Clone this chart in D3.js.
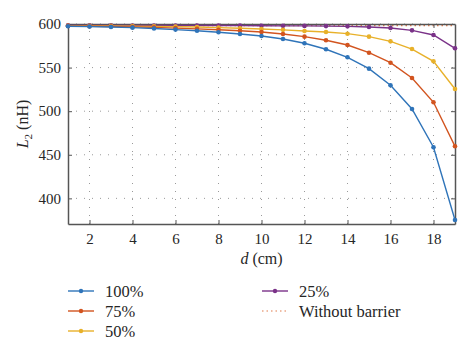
<!DOCTYPE html>
<html>
<head>
<meta charset="utf-8">
<script src="https://cdn.jsdelivr.net/npm/d3@7"></script>
<style>
  body { margin: 0; background: #fff; }
  text { font-family: 'Liberation Serif', 'DejaVu Serif', serif; fill: #262626; }
</style>
</head>
<body>
<div id="chart"></div>
<script>
const distances = [1, 2, 3, 4, 5, 6, 7, 8, 9, 10, 11, 12, 13, 14, 15, 16, 17, 18, 19];
const series100 = [597.5, 597.0, 596.5, 595.8, 594.8, 593.6, 592.2, 590.5, 588.6, 586.2, 582.8, 577.9, 571.0, 561.8, 548.8, 529.7, 502.5, 458.6, 375.2];
const series75 = [597.8, 597.5, 597.2, 596.7, 596.1, 595.3, 594.4, 593.4, 592.2, 590.8, 588.5, 585.5, 581.3, 575.9, 567.1, 555.6, 538.0, 510.2, 459.7];
const series50 = [598.0, 597.9, 597.8, 597.6, 597.3, 597.0, 596.5, 595.9, 595.1, 594.2, 593.3, 592.0, 590.8, 588.9, 585.5, 580.1, 571.3, 557.2, 525.5];
const series25 = [598.4, 598.4, 598.4, 598.3, 598.3, 598.3, 598.2, 598.2, 598.1, 598.0, 597.9, 597.8, 597.6, 597.3, 596.6, 595.4, 592.7, 587.4, 572.1];
const withoutBarrier = 598.2;
const xTicks = [2, 4, 6, 8, 10, 12, 14, 16, 18];
const yTicks = [400, 450, 500, 550, 600];
const seriesNames = ["100%", "75%", "50%", "25%"];
const colors = ["#2f74b9", "#d2541f", "#e8b12a", "#7a3288"];

const width = 474, height = 353;
const margin = { top: 24, left: 68, right: 19, bottom: 129 };

const svg = d3.select("#chart").append("svg")
    .attr("width", width)
    .attr("height", height);

const x = d3.scaleLinear().domain([1, 19]).range([margin.left, width - margin.right]);
const y = d3.scaleLinear().domain([370.6, 600]).range([height - margin.bottom, margin.top]);

const x0 = margin.left, x1 = width - margin.right;
const y0 = height - margin.bottom, y1 = margin.top;

// grid
svg.append("g").selectAll("line")
    .data(xTicks).join("line")
    .attr("x1", d => x(d)).attr("x2", d => x(d))
    .attr("y1", y0).attr("y2", y1)
    .attr("stroke", "#9a9a9a").attr("stroke-width", 1)
    .attr("stroke-dasharray", "1,7");

svg.append("g").selectAll("line")
    .data(yTicks).join("line")
    .attr("x1", x0).attr("x2", x1)
    .attr("y1", d => y(d)).attr("y2", d => y(d))
    .attr("stroke", "#9a9a9a").attr("stroke-width", 1)
    .attr("stroke-dasharray", "1,7");

// without barrier reference
svg.append("line")
    .attr("x1", x0).attr("x2", x1)
    .attr("y1", y(withoutBarrier)).attr("y2", y(withoutBarrier))
    .attr("stroke", "#e07a4a").attr("stroke-width", 1.2)
    .attr("stroke-dasharray", "1.5,3");

// axes (inward ticks, matlab style)
const axisStyle = g => {
    g.selectAll("text").style("font-family", "'Liberation Serif', serif")
        .style("font-size", "15px").attr("fill", "#262626");
    g.selectAll("line").attr("stroke", "#555");
    g.select(".domain").attr("stroke", "#555").attr("stroke-width", 1.5);
};

svg.append("g")
    .attr("transform", `translate(0,${y0})`)
    .call(d3.axisBottom(x).tickValues(xTicks).tickSize(-4).tickSizeOuter(0).tickPadding(9))
    .call(axisStyle);

svg.append("g")
    .attr("transform", `translate(${x0},0)`)
    .call(d3.axisLeft(y).tickValues(yTicks).tickSize(-4).tickSizeOuter(0).tickPadding(7))
    .call(axisStyle);

svg.append("g")
    .attr("transform", `translate(0,${y1})`)
    .call(d3.axisTop(x).tickValues(xTicks).tickSize(-4).tickSizeOuter(0).tickFormat(""))
    .call(axisStyle);

svg.append("g")
    .attr("transform", `translate(${x1},0)`)
    .call(d3.axisRight(y).tickValues(yTicks).tickSize(-4).tickSizeOuter(0).tickFormat(""))
    .call(axisStyle);

// series
const allSeries = [series100, series75, series50, series25];
const line = d3.line().x((d, i) => x(distances[i])).y(d => y(d));

allSeries.slice().reverse().forEach((vals, ri) => {
    const i = allSeries.length - 1 - ri;
    svg.append("path")
        .datum(vals)
        .attr("fill", "none")
        .attr("stroke", colors[i])
        .attr("stroke-width", 1.4)
        .attr("d", line);
    svg.append("g").selectAll("circle")
        .data(vals).join("circle")
        .attr("cx", (d, j) => x(distances[j]))
        .attr("cy", d => y(d))
        .attr("r", 2.3)
        .attr("fill", colors[i]);
});

// axis labels
const yl = svg.append("text")
    .attr("transform", `translate(28,${(y0 + y1) / 2}) rotate(-90)`)
    .attr("text-anchor", "middle")
    .style("font-size", "16px");
yl.append("tspan").style("font-style", "italic").text("L");
yl.append("tspan").attr("dy", 4).style("font-size", "11px").text("2");
yl.append("tspan").attr("dy", -4).text(" (nH)");

const xl = svg.append("text")
    .attr("x", (x0 + x1) / 2)
    .attr("y", 264)
    .attr("text-anchor", "middle")
    .style("font-size", "16px");
xl.append("tspan").style("font-style", "italic").text("d");
xl.append("tspan").text(" (cm)");

// legend
const legendItems = [
    { name: seriesNames[0], color: colors[0], col: 0, row: 0, marker: true },
    { name: seriesNames[1], color: colors[1], col: 0, row: 1, marker: true },
    { name: seriesNames[2], color: colors[2], col: 0, row: 2, marker: true },
    { name: seriesNames[3], color: colors[3], col: 1, row: 0, marker: true },
    { name: "Without barrier", color: "#e07a4a", col: 1, row: 1, marker: false }
];
const colX = [68, 262], rowY = [291, 311, 331];

const lg = svg.append("g").selectAll("g")
    .data(legendItems).join("g")
    .attr("transform", d => `translate(${colX[d.col]},${rowY[d.row]})`);

lg.append("line")
    .attr("x1", 0).attr("x2", 26)
    .attr("stroke", d => d.color)
    .attr("stroke-width", d => d.marker ? 1.4 : 1.2)
    .attr("stroke-dasharray", d => d.marker ? null : "1.5,3");

lg.filter(d => d.marker).append("circle")
    .attr("cx", 13).attr("r", 2.2)
    .attr("fill", d => d.color);

lg.append("text")
    .attr("x", 37).attr("dy", "0.35em")
    .style("font-size", "16.5px")
    .text(d => d.name);
</script>
</body>
</html>
